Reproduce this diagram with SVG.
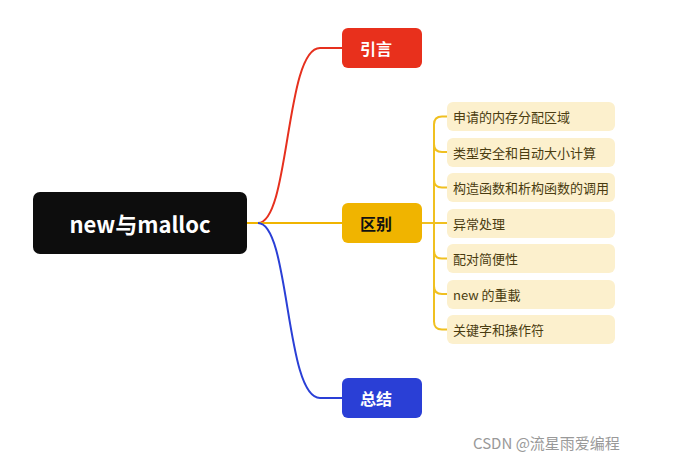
<svg xmlns="http://www.w3.org/2000/svg" width="680" height="461" viewBox="0 0 680 461">
<style>
text{font-family:"Noto Sans CJK SC","Liberation Sans",sans-serif}
.b{font-size:16px;font-weight:bold;fill:#fff;text-anchor:middle;dominant-baseline:central}
.leaf rect{fill:#fcf0cd}
.leaf text{font-size:13px;fill:#4a3c10;dominant-baseline:central}
.c{fill:none;stroke-width:2}
</style>
<rect width="680" height="461" fill="#fff"/>
<g id="connectors">
<path class="c" stroke="#e6301e" d="M247,223 H258 C290,223 285,48 320,48 H342"/>
<path class="c" stroke="#f0b400" d="M247,223 H342"/>
<path class="c" stroke="#2a3fd6" d="M258,223 C290,223 285,398 320,398 H342"/>
<path class="c" stroke="#f0c020" d="M422,223 H447 M447,116.5 H442 Q434,116.5 434,124.5 V321.5 Q434,329.5 442,329.5 H447 M434,144 Q434,152 442,152 H447 M434,179.5 Q434,187.5 442,187.5 H447 M434,250.5 Q434,258.5 442,258.5 H447 M434,286 Q434,294 442,294 H447"/>
</g>
<g id="root"><rect x="33" y="192" width="214" height="62" rx="7" fill="#0d0d0d"/><text class="b" x="140" y="223" style="font-size:22px">new与malloc</text></g>
<g id="yinyan"><rect x="342" y="28" width="80" height="40" rx="6" fill="#e8301c"/><text class="b" x="376" y="48">引言</text></g>
<g id="qubie"><rect x="342" y="203" width="80" height="40" rx="6" fill="#f0b400"/><text class="b" x="376" y="223" style="fill:#111">区别</text></g>
<g id="zongjie"><rect x="342" y="378" width="80" height="40" rx="6" fill="#2a3fd6"/><text class="b" x="376" y="398">总结</text></g>
<g id="l1" class="leaf"><rect x="447" y="102" width="168" height="29" rx="6"/><text x="453" y="116.5">申请的内存分配区域</text></g>
<g id="l2" class="leaf"><rect x="447" y="138" width="168" height="29" rx="6"/><text x="453" y="152">类型安全和自动大小计算</text></g>
<g id="l3" class="leaf"><rect x="447" y="173" width="168" height="29" rx="6"/><text x="453" y="187.5">构造函数和析构函数的调用</text></g>
<g id="l4" class="leaf"><rect x="447" y="209" width="168" height="29" rx="6"/><text x="453" y="223">异常处理</text></g>
<g id="l5" class="leaf"><rect x="447" y="244" width="168" height="29" rx="6"/><text x="453" y="258.5">配对简便性</text></g>
<g id="l6" class="leaf"><rect x="447" y="280" width="168" height="29" rx="6"/><text x="453" y="294">new 的重載</text></g>
<g id="l7" class="leaf"><rect x="447" y="315" width="168" height="29" rx="6"/><text x="453" y="329.5">关键字和操作符</text></g>
<text x="473" y="449" style="font-size:15px;fill:#999">CSDN @流星雨爱编程</text>
</svg>
